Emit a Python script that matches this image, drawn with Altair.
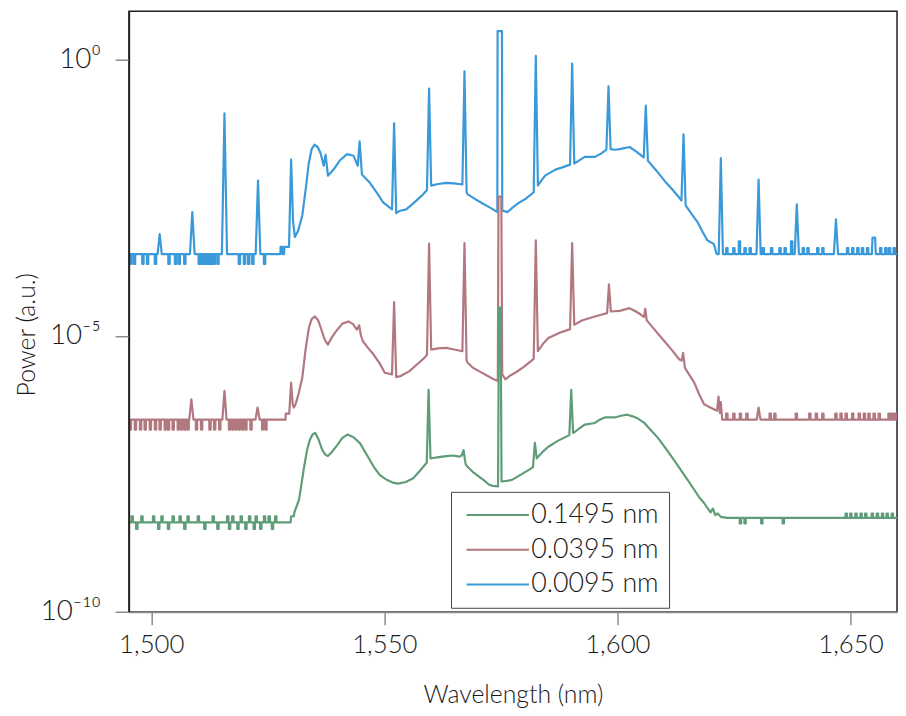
import altair as alt
import pandas as pd

# ---------------- values ----------------
# wavelength (nm) and log10 of the power (a.u.)
series_labels = ["0.1495 nm", "0.0395 nm", "0.0095 nm"]
series_colors = ["#5f9c78", "#b1787f", "#3a99d8"]

blue_points = [
    (1495.2, -3.52),
    (1501.35, -3.52), (1501.8, -3.16), (1502.25, -3.52),
    (1508.3, -3.52), (1508.8, -2.76), (1509.3, -3.52),
    (1515.15, -3.52), (1515.7, -0.97), (1516.25, -3.52),
    (1522.4, -3.52), (1522.9, -2.19), (1523.4, -3.52),
    (1527.7, -3.52), (1527.75, -3.39), (1528.1, -3.39), (1528.15, -3.52),
    (1528.5, -3.52), (1528.55, -3.39), (1529.55, -3.39),
    (1530.0, -1.81), (1530.4, -2.90), (1530.8, -3.21), (1531.5, -3.10),
    (1532.4, -2.82), (1533.2, -2.30), (1533.8, -1.87), (1534.4, -1.62),
    (1535.0, -1.54), (1535.7, -1.58), (1536.3, -1.69), (1537.0, -1.92),
    (1537.4, -1.72), (1537.9, -2.10), (1539.1, -1.99), (1540.5, -1.82),
    (1542.0, -1.71), (1543.4, -1.74), (1544.3, -1.92), (1544.7, -1.48),
    (1545.2, -2.08), (1546.9, -2.23), (1548.5, -2.42), (1549.8, -2.59),
    (1551.65, -2.71), (1552.1, -1.15), (1552.55, -2.78), (1553.2, -2.74),
    (1554.7, -2.71), (1556.5, -2.58), (1558.3, -2.44), (1559.15, -2.36),
    (1559.6, -0.52), (1560.05, -2.28), (1561.5, -2.25), (1563.3, -2.23),
    (1565.0, -2.24), (1566.75, -2.26), (1567.2, -0.21), (1567.65, -2.40),
    (1567.9, -2.44), (1569.6, -2.53), (1571.0, -2.60), (1572.5, -2.67),
    (1573.5, -2.72), (1574.25, -2.76),
    (1574.3, 0.52), (1575.25, 0.52), (1575.3, -2.73),
    (1576.4, -2.76), (1577.5, -2.68), (1578.9, -2.59), (1580.3, -2.52),
    (1582.05, -2.40), (1582.5, 0.07), (1582.95, -2.28), (1583.4, -2.22),
    (1584.5, -2.10), (1586.7, -1.99), (1588.2, -1.95), (1589.85, -1.90),
    (1590.3, -0.07), (1590.75, -1.88), (1591.5, -1.84), (1593.0, -1.76),
    (1595.2, -1.76), (1596.5, -1.70), (1597.65, -1.63), (1598.1, -0.48),
    (1598.55, -1.62), (1599.5, -1.63), (1600.5, -1.62), (1602.6, -1.58),
    (1604.0, -1.66), (1605.65, -1.77), (1606.1, -0.83), (1606.55, -1.83),
    (1608.3, -2.00), (1610.1, -2.19), (1611.8, -2.35), (1613.3, -2.50),
    (1613.75, -2.55), (1614.2, -1.35), (1614.65, -2.64), (1615.8, -2.78),
    (1617.2, -2.94), (1618.3, -3.12), (1619.3, -3.27), (1620.7, -3.34),
    (1621.3, -3.52), (1621.75, -3.52), (1622.2, -1.78), (1622.65, -3.52),
    (1629.85, -3.52), (1630.3, -2.17), (1630.75, -3.52),
    (1638.05, -3.52), (1638.5, -2.62), (1638.95, -3.52),
    (1646.45, -3.52), (1646.9, -2.89), (1647.35, -3.52),
    (1654.6, -3.52), (1654.75, -3.22), (1655.3, -3.22), (1655.45, -3.52),
    (1660.0, -3.52),
]
blue_floor = -3.52
blue_floor_dips = [1495.6, 1496.4, 1498.2, 1499.2, 1500.9, 1503.8, 1505.2, 1506.0,
                   1507.2, 1510.3, 1510.9, 1511.4, 1511.9, 1512.4, 1512.9, 1513.5,
                   1514.3, 1518.9, 1520.0, 1520.9, 1521.8, 1524.3]
blue_dip_level = -3.70
blue_floor_bumps = [1623.5, 1625.0, 1627.4, 1628.5, 1631.3, 1633.1, 1634.9, 1636.0,
                    1639.9, 1640.9, 1643.0, 1644.1, 1649.4, 1650.5, 1651.6, 1652.6,
                    1653.7, 1656.5, 1657.6, 1658.4, 1659.4]
blue_bump_level = -3.41
blue_tall_bumps = [1626.2, 1637.4]
blue_tall_level = -3.29

red_points = [
    (1495.2, -6.52),
    (1508.15, -6.52), (1508.6, -6.15), (1509.05, -6.52),
    (1515.25, -6.52), (1515.7, -6.00), (1516.15, -6.52),
    (1522.35, -6.52), (1522.8, -6.30), (1523.25, -6.52),
    (1528.8, -6.52), (1528.85, -6.41), (1529.6, -6.41),
    (1530.0, -5.85), (1530.35, -6.25), (1530.6, -6.30), (1531.0, -6.23),
    (1531.6, -6.05), (1532.4, -5.76), (1533.1, -5.25), (1533.8, -4.86),
    (1534.4, -4.70), (1535.1, -4.65), (1535.8, -4.72), (1536.4, -4.86),
    (1537.0, -5.02), (1537.4, -5.10), (1537.9, -5.16), (1538.8, -5.02),
    (1539.9, -4.89), (1541.0, -4.78), (1542.3, -4.74), (1543.3, -4.79),
    (1544.1, -4.89), (1544.6, -4.81), (1545.0, -5.00), (1545.4, -5.10),
    (1546.5, -5.22), (1547.7, -5.34), (1549.0, -5.50), (1550.1, -5.67),
    (1551.65, -5.70), (1552.1, -4.39), (1552.55, -5.75), (1553.5, -5.73),
    (1555.4, -5.64), (1557.0, -5.52), (1558.6, -5.40), (1559.15, -5.35),
    (1559.6, -3.33), (1560.05, -5.25), (1561.5, -5.23), (1563.3, -5.22),
    (1565.0, -5.25), (1566.75, -5.28), (1567.2, -3.32), (1567.65, -5.45),
    (1567.9, -5.49), (1569.0, -5.58), (1570.3, -5.64), (1572.0, -5.72),
    (1573.5, -5.79), (1574.35, -5.82),
    (1574.5, -2.48), (1575.1, -2.48), (1575.3, -5.70),
    (1576.0, -5.79), (1577.0, -5.72), (1578.1, -5.67), (1580.0, -5.56),
    (1582.05, -5.42), (1582.5, -3.27), (1582.95, -5.28), (1584.0, -5.15),
    (1585.2, -5.04), (1587.5, -4.95), (1589.85, -4.88), (1590.3, -3.32),
    (1590.75, -4.80), (1592.5, -4.72), (1595.2, -4.65), (1596.5, -4.62),
    (1597.8, -4.59), (1598.2, -4.07), (1598.6, -4.56), (1600.5, -4.55),
    (1602.6, -4.50), (1604.0, -4.56), (1605.1, -4.62), (1605.7, -4.66),
    (1606.0, -4.51), (1606.3, -4.72), (1606.5, -4.74), (1608.3, -4.92),
    (1610.1, -5.10), (1611.8, -5.27), (1613.3, -5.43), (1613.8, -5.45),
    (1614.1, -5.31), (1614.5, -5.58), (1614.7, -5.61), (1616.5, -5.85),
    (1617.5, -6.05), (1618.6, -6.24), (1619.5, -6.28), (1620.7, -6.33),
    (1621.4, -6.36), (1621.7, -6.10), (1622.0, -6.40), (1622.2, -6.20),
    (1622.5, -6.52),
    (1629.9, -6.52), (1630.3, -6.30), (1630.7, -6.52),
    (1660.0, -6.52),
]
red_floor = -6.52
red_floor_dips = [1495.5, 1496.6, 1497.7, 1498.7, 1499.8, 1500.9, 1501.9, 1503.0,
                  1503.7, 1504.7, 1505.8, 1506.5, 1507.2, 1507.9, 1509.7, 1510.8,
                  1512.6, 1513.6, 1514.7, 1516.8, 1517.5, 1518.2, 1518.9, 1519.6,
                  1520.3, 1521.4, 1523.9, 1524.6]
red_dip_level = -6.70
red_floor_bumps = [1623.5, 1625.0, 1626.4, 1627.8, 1632.8, 1633.8, 1638.4, 1641.3,
                   1642.7, 1644.1, 1646.9, 1648.0, 1649.1, 1650.5, 1651.9, 1653.0,
                   1654.0, 1655.1, 1656.2, 1658.3, 1659.0, 1659.7]
red_bump_level = -6.41

green_points = [
    (1495.2, -8.38),
    (1529.9, -8.38), (1530.0, -8.27), (1530.6, -8.27), (1530.7, -8.20),
    (1531.7, -7.97), (1532.2, -7.70), (1532.8, -7.37), (1533.4, -7.08),
    (1534.0, -6.89), (1534.6, -6.79), (1535.2, -6.76), (1535.9, -6.88),
    (1536.7, -7.07), (1537.3, -7.15), (1537.9, -7.18), (1538.8, -7.10),
    (1539.9, -6.98), (1541.0, -6.85), (1542.1, -6.79), (1543.4, -6.84),
    (1544.8, -6.95), (1546.2, -7.15), (1547.7, -7.37), (1549.0, -7.52),
    (1550.5, -7.61), (1551.8, -7.66), (1553.0, -7.68), (1554.6, -7.65),
    (1556.2, -7.58), (1557.6, -7.45), (1559.0, -7.31), (1559.1, -7.30),
    (1559.5, -5.98), (1559.9, -7.22), (1560.1, -7.22), (1561.7, -7.20),
    (1563.3, -7.18), (1564.7, -7.17), (1566.1, -7.19), (1566.6, -7.17),
    (1567.0, -7.07), (1567.3, -7.25), (1567.5, -7.34), (1568.9, -7.46),
    (1570.3, -7.55), (1571.4, -7.62), (1572.5, -7.70), (1573.3, -7.72),
    (1574.4, -7.73),
    (1574.6, -4.49), (1574.95, -4.49), (1575.15, -7.64),
    (1576.3, -7.63), (1577.4, -7.61), (1579.2, -7.52), (1581.0, -7.43),
    (1581.9, -7.38), (1582.3, -6.94), (1582.7, -7.22), (1582.9, -7.20),
    (1584.0, -7.10), (1585.2, -7.01), (1587.3, -6.90), (1589.7, -6.80),
    (1590.1, -5.98), (1590.5, -6.76), (1590.6, -6.76), (1591.8, -6.68),
    (1593.0, -6.61), (1595.2, -6.58), (1596.2, -6.52), (1597.3, -6.48),
    (1599.4, -6.48), (1600.8, -6.45), (1602.1, -6.43), (1603.3, -6.46),
    (1604.4, -6.50), (1605.8, -6.58), (1607.2, -6.71), (1608.7, -6.85),
    (1610.1, -7.01), (1611.9, -7.22), (1613.6, -7.43), (1615.0, -7.60),
    (1616.5, -7.79), (1617.5, -7.92), (1618.6, -8.03), (1619.3, -8.12),
    (1620.0, -8.20), (1620.5, -8.13), (1621.0, -8.25), (1621.5, -8.22),
    (1622.2, -8.28), (1623.5, -8.30),
    (1660.0, -8.30),
]
green_left_floor = -8.38
green_left_ups = [1495.9, 1498.0, 1500.5, 1502.3, 1504.7, 1506.2, 1507.9, 1510.1,
                  1513.3, 1516.4, 1517.5, 1519.3, 1521.1, 1522.5, 1524.3, 1525.3, 1526.7]
green_left_up_level = -8.27
green_left_dips = [1496.9, 1501.6, 1503.7, 1507.2, 1511.5, 1514.3, 1516.8, 1518.6,
                   1520.3, 1522.1, 1523.5, 1526.0]
green_left_dip_level = -8.50
green_right_floor = -8.30
green_right_dips = [1626.4, 1627.4, 1631.0, 1635.6]
green_right_dip_level = -8.40
green_right_ups = [1649.1, 1650.1, 1651.2, 1652.3, 1653.3, 1654.7, 1655.8, 1656.9,
                   1657.9, 1659.0]
green_right_up_level = -8.22


def build(label, points, pulse_groups):
    """Merge the traced outline with the narrow noise-floor flickers."""
    items = [(w, [(w, e)]) for w, e in points]
    for floor, level, centres in pulse_groups:
        for w in centres:
            items.append((w, [(w - 0.15, floor), (w - 0.15, level),
                              (w + 0.15, level), (w + 0.15, floor)]))
    items.sort(key=lambda t: t[0])
    rows = []
    for _, pts in items:
        for w, e in pts:
            rows.append({"series": label, "nm": w, "power": 10.0 ** e, "i": len(rows)})
    return rows


rows_blue = build(series_labels[2], blue_points, [
    (blue_floor, blue_dip_level, blue_floor_dips),
    (blue_floor, blue_bump_level, blue_floor_bumps),
    (blue_floor, blue_tall_level, blue_tall_bumps),
])
rows_red = build(series_labels[1], red_points, [
    (red_floor, red_dip_level, red_floor_dips),
    (red_floor, red_bump_level, red_floor_bumps),
])
rows_green = build(series_labels[0], green_points, [
    (green_left_floor, green_left_up_level, green_left_ups),
    (green_left_floor, green_left_dip_level, green_left_dips),
    (green_right_floor, green_right_dip_level, green_right_dips),
    (green_right_floor, green_right_up_level, green_right_ups),
])

df = pd.DataFrame(rows_blue + rows_red + rows_green)

FONT = "Lato"
TXT = "#1a1a1a"
FRAME = "#231f20"
GREY = "#8c8c8c"

x_enc = alt.X(
    "nm:Q",
    scale=alt.Scale(domain=[1495.2, 1660], nice=False, zero=False),
    axis=alt.Axis(
        values=[1500, 1550, 1600, 1650], format=",d", title="Wavelength (nm)",
        grid=False, domainColor=GREY, domainWidth=2, zindex=1,
        tickColor=GREY, tickWidth=1.5, tickSize=13,
        labelFont=FONT, labelFontSize=26, labelFontWeight=300, labelColor=TXT,
        labelPadding=7,
        titleFont=FONT, titleFontSize=25, titleFontWeight=300, titleColor=TXT,
        titleY=92, titleBaseline="alphabetic",
    ),
)
y_enc = alt.Y(
    "power:Q",
    scale=alt.Scale(type="log", domain=[1e-10, 7.6], nice=False),
    axis=alt.Axis(
        values=[1e-10, 1e-5, 1],
        labelExpr="datum.value >= 0.5 ? '10⁰' : (datum.value >= 1e-6 ? '10⁻⁵' : '10⁻¹⁰')",
        title="Power (a.u.)", grid=False,
        domain=True, domainColor=FRAME, domainWidth=1.5, zindex=1,
        tickColor=GREY, tickWidth=1.5, tickSize=14,
        labelFont=FONT, labelFontSize=28, labelFontWeight=300, labelColor=TXT,
        labelPadding=15,
        titleFont=FONT, titleFontSize=25, titleFontWeight=300, titleColor=TXT,
        titleX=-103, titleY=326, titleAngle=-90, titleAlign="center",
        titleBaseline="middle",
    ),
)
color_enc = alt.Color(
    "series:N",
    scale=alt.Scale(domain=series_labels, range=series_colors),
    legend=alt.Legend(
        title=None, orient="none", legendX=325, legendY=485,
        fillColor="white", strokeColor="#444", padding=10, rowPadding=7,
        symbolType="M-1,0H7", symbolSize=248, symbolStrokeWidth=2,
        labelFont=FONT, labelFontSize=27, labelFontWeight=300, labelColor=TXT,
        labelOffset=44, labelLimit=0,
    ),
)


def layer_for(label):
    return (
        alt.Chart(df)
        .transform_filter(alt.datum.series == label)
        .mark_line(strokeWidth=2.2, strokeJoin="round", clip=True)
        .encode(x=x_enc, y=y_enc, color=color_enc, order="i:Q")
    )


chart = (
    alt.layer(layer_for(series_labels[2]), layer_for(series_labels[1]),
              layer_for(series_labels[0]))
    .properties(
        width=775, height=606,
        autosize=alt.AutoSizeParams(type="none"),
        padding={"left": 122, "top": 0, "right": 1, "bottom": 100},
        view=alt.ViewBackground(stroke=FRAME, strokeWidth=1.5),
    )
    .configure_view(stroke=FRAME, strokeWidth=1.5)
    .configure(background="white")
)

chart.save("out.html", embed_options={"renderer": "svg", "actions": False})
